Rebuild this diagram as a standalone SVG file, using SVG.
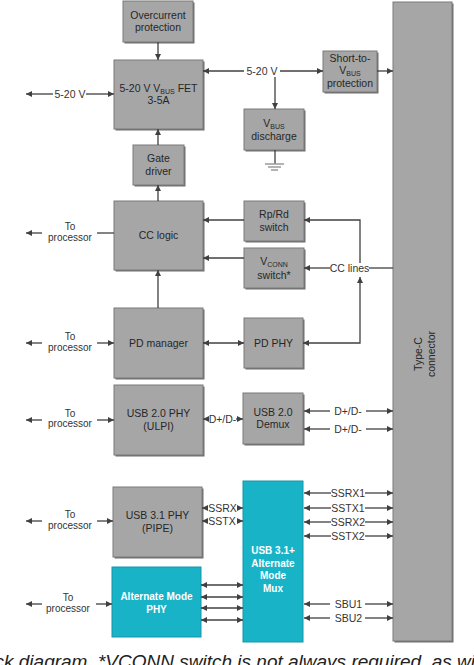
<svg xmlns="http://www.w3.org/2000/svg" width="474" height="665" viewBox="0 0 474 665">
<defs>
<marker id="a" viewBox="0 0 10 10" refX="10" refY="5" markerWidth="7" markerHeight="6" orient="auto-start-reverse" markerUnits="userSpaceOnUse"><path d="M0,0 L10,5 L0,10 z" fill="#404040"/></marker>
</defs>
<style>
.g{fill:#a6a6a6;stroke:#7a7a7a;stroke-width:1}
.t{fill:#19b3c7;stroke:#1496a8;stroke-width:1}
.sh{fill:#6f6f6f}
.tx{font-family:"Liberation Sans",Arial,sans-serif;font-size:10.5px;fill:#262626;text-anchor:middle}
.wt{font-family:"Liberation Sans",Arial,sans-serif;font-size:10px;font-weight:bold;fill:#ffffff;text-anchor:middle}
.lb{font-family:"Liberation Sans",Arial,sans-serif;font-size:10.5px;fill:#333333;text-anchor:middle}
.tp{font-family:"Liberation Sans",Arial,sans-serif;font-size:10px;fill:#333333;text-anchor:middle}
.sub{font-size:7px}
.c{fill:none;stroke:#404040;stroke-width:1.3}
.e{marker-end:url(#a)}
.s{marker-start:url(#a)}
.gnd{stroke:#9a9a9a;stroke-width:1.3}
</style>
<rect width="474" height="665" fill="#ffffff"/>

<g id="connector">
<rect class="sh" x="394.5" y="3.5" width="59" height="639"/>
<rect class="g" x="393" y="2" width="59" height="639"/>
<text class="tx" transform="translate(422,354) rotate(-90)">Type-C</text>
<text class="tx" transform="translate(435,354) rotate(-90)">connector</text>
</g>

<g id="overcurrent">
<rect class="sh" x="124.5" y="2.5" width="70" height="41"/>
<rect class="g" x="123" y="1" width="70" height="41"/>
<text class="tx" x="158" y="18.5">Overcurrent</text>
<text class="tx" x="158" y="31">protection</text>
</g>

<g id="fet">
<rect class="sh" x="115.5" y="61.5" width="89" height="69"/>
<rect class="g" x="114" y="60" width="89" height="69"/>
<text class="tx" x="158.5" y="91.5">5-20 V V<tspan class="sub" dy="2">BUS</tspan><tspan dy="-2"> FET</tspan></text>
<text class="tx" x="158.5" y="104">3-5A</text>
</g>

<g id="short">
<rect class="sh" x="324.5" y="52.5" width="54" height="41"/>
<rect class="g" x="323" y="51" width="54" height="41"/>
<text class="tx" x="350" y="61.5">Short-to-</text>
<text class="tx" x="350" y="74">V<tspan class="sub" dy="1.5">BUS</tspan></text>
<text class="tx" x="350" y="87">protection</text>
</g>

<g id="discharge">
<rect class="sh" x="245.5" y="110.5" width="60" height="41"/>
<rect class="g" x="244" y="109" width="60" height="41"/>
<text class="tx" x="274" y="127">V<tspan class="sub" dy="1.5">BUS</tspan></text>
<text class="tx" x="274" y="140">discharge</text>
</g>

<g id="gate">
<rect class="sh" x="134.5" y="146.5" width="51" height="40"/>
<rect class="g" x="133" y="145" width="51" height="40"/>
<text class="tx" x="158.5" y="162">Gate</text>
<text class="tx" x="158.5" y="175">driver</text>
</g>

<g id="cclogic">
<rect class="sh" x="115.5" y="202.5" width="89" height="69"/>
<rect class="g" x="114" y="201" width="89" height="69"/>
<text class="tx" x="158.5" y="239">CC logic</text>
</g>

<g id="rprd">
<rect class="sh" x="245.5" y="202.5" width="60" height="40"/>
<rect class="g" x="244" y="201" width="60" height="40"/>
<text class="tx" x="274" y="218">Rp/Rd</text>
<text class="tx" x="274" y="231">switch</text>
</g>

<g id="vconn">
<rect class="sh" x="245.5" y="249.5" width="60" height="40"/>
<rect class="g" x="244" y="248" width="60" height="40"/>
<text class="tx" x="274" y="265">V<tspan class="sub" dy="1.5">CONN</tspan></text>
<text class="tx" x="274" y="279">switch*</text>
</g>

<g id="pdmanager">
<rect class="sh" x="115.5" y="309.5" width="89" height="70"/>
<rect class="g" x="114" y="308" width="89" height="70"/>
<text class="tx" x="158.5" y="347">PD manager</text>
</g>

<g id="pdphy">
<rect class="sh" x="245.5" y="319.5" width="59" height="50"/>
<rect class="g" x="244" y="318" width="59" height="50"/>
<text class="tx" x="273.5" y="347">PD PHY</text>
</g>

<g id="usb2phy">
<rect class="sh" x="115.5" y="386.5" width="89" height="70"/>
<rect class="g" x="114" y="385" width="89" height="70"/>
<text class="tx" x="158.5" y="417">USB 2.0 PHY</text>
<text class="tx" x="158.5" y="430">(ULPI)</text>
</g>

<g id="demux">
<rect class="sh" x="244.5" y="394.5" width="60" height="51"/>
<rect class="g" x="243" y="393" width="60" height="51"/>
<text class="tx" x="273" y="415.5">USB 2.0</text>
<text class="tx" x="273" y="428">Demux</text>
</g>

<g id="usb3phy">
<rect class="sh" x="114.5" y="488.5" width="89" height="70"/>
<rect class="g" x="113" y="487" width="89" height="70"/>
<text class="tx" x="157.5" y="519">USB 3.1 PHY</text>
<text class="tx" x="157.5" y="532">(PIPE)</text>
</g>

<g id="mux">
<rect class="t" x="243" y="481" width="60" height="161"/>
<text class="wt" x="273" y="554">USB 3.1+</text>
<text class="wt" x="273" y="566.5">Alternate</text>
<text class="wt" x="273" y="579">Mode</text>
<text class="wt" x="273" y="591.5">Mux</text>
</g>

<g id="altphy">
<rect class="t" x="112" y="567" width="89" height="70"/>
<text class="wt" x="156.5" y="600">Alternate Mode</text>
<text class="wt" x="156.5" y="613">PHY</text>
</g>

<g id="connectors">
<path class="c e" d="M158,42 V60"/>
<path class="c s" d="M26,94 H53"/>
<path class="c e" d="M86,94 H114"/>
<text class="lb" x="70" y="98">5-20 V</text>
<path class="c s" d="M203,71 H244"/>
<path class="c e" d="M280,71 H323"/>
<text class="lb" x="262" y="75">5-20 V</text>
<path class="c e" d="M275,77 V109"/>
<path class="c e" d="M377,71 H393"/>
<path class="c" d="M275,150 V164"/>
<path class="gnd" d="M265,164 H284 M268,167 H281 M271,170 H278"/>
<path class="c e" d="M158,145 V129"/>
<path class="c e" d="M158,201 V185"/>

<path class="c e" d="M42,233 H26"/>
<path class="c" d="M97,233 H114"/>
<text class="tp" x="70" y="230">To</text>
<text class="tp" x="70" y="240.5">processor</text>

<path class="c e" d="M244,220 H203"/>
<path class="c e" d="M244,258 H203"/>
<path class="c" d="M393,268 H369"/>
<path class="c e" d="M330,268 H304"/>
<text class="lb" x="349.5" y="272">CC lines</text>
<path class="c e" d="M360,263 V220 H304"/>
<path class="c s e" d="M360,277 V343 H303"/>
<path class="c e" d="M158,308 V270"/>

<path class="c e" d="M42,343 H26"/>
<path class="c e" d="M97,343 H114"/>
<text class="tp" x="70" y="340">To</text>
<text class="tp" x="70" y="350.5">processor</text>
<path class="c s e" d="M203,343 H244"/>

<path class="c e" d="M42,420 H26"/>
<path class="c e" d="M97,420 H114"/>
<text class="tp" x="70" y="416.5">To</text>
<text class="tp" x="70" y="427">processor</text>
<path class="c e" d="M209,419 H203"/>
<path class="c e" d="M236,419 H243"/>
<text class="lb" x="222.5" y="423">D+/D-</text>

<path class="c s" d="M304,411 H330"/>
<path class="c e" d="M366,411 H393"/>
<text class="lb" x="348" y="415">D+/D-</text>
<path class="c s" d="M304,429 H330"/>
<path class="c e" d="M366,429 H393"/>
<text class="lb" x="348" y="433">D+/D-</text>

<path class="c e" d="M42,521 H26"/>
<path class="c e" d="M97,521 H113"/>
<text class="tp" x="70" y="518">To</text>
<text class="tp" x="70" y="528.5">processor</text>
<path class="c e" d="M208,508 H202"/>
<path class="c e" d="M237,508 H243"/>
<text class="lb" x="222.5" y="512">SSRX</text>
<path class="c e" d="M208,521 H202"/>
<path class="c e" d="M237,521 H243"/>
<text class="lb" x="222" y="525">SSTX</text>

<path class="c s" d="M304,493 H331"/>
<path class="c e" d="M365,493 H393"/>
<text class="lb" x="348" y="497">SSRX1</text>
<path class="c s" d="M304,508 H331"/>
<path class="c e" d="M365,508 H393"/>
<text class="lb" x="348" y="512">SSTX1</text>
<path class="c s" d="M304,522 H331"/>
<path class="c e" d="M365,522 H393"/>
<text class="lb" x="348" y="526">SSRX2</text>
<path class="c s" d="M304,536 H331"/>
<path class="c e" d="M365,536 H393"/>
<text class="lb" x="348" y="540">SSTX2</text>

<path class="c e" d="M42,604 H26"/>
<path class="c e" d="M96,604 H112"/>
<text class="tp" x="68" y="601">To</text>
<text class="tp" x="68" y="611.5">processor</text>
<path class="c s e" d="M201,585 H243"/>
<path class="c s e" d="M201,597 H243"/>
<path class="c s e" d="M201,608 H243"/>
<path class="c s e" d="M201,620 H243"/>

<path class="c s" d="M304,604 H330"/>
<path class="c e" d="M365,604 H393"/>
<text class="lb" x="348.5" y="608">SBU1</text>
<path class="c s" d="M304,618 H330"/>
<path class="c e" d="M365,618 H393"/>
<text class="lb" x="348.5" y="622">SBU2</text>
</g>

<text x="-5.5" y="668" font-family="Liberation Sans, Arial, sans-serif" font-size="19" font-style="italic" fill="#222222">ck diagram. *VCONN switch is not always required, as will be explained</text>
</svg>
